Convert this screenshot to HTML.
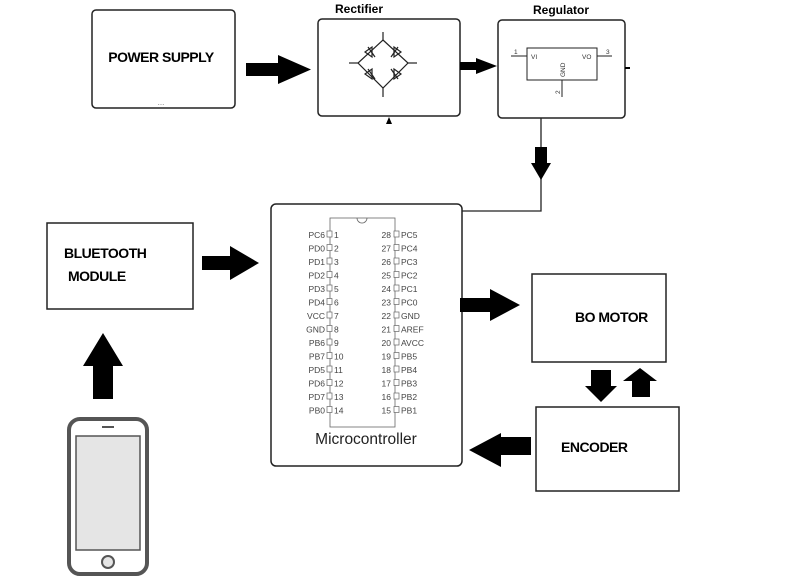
<!DOCTYPE html>
<html><head><style>
html,body{margin:0;padding:0;background:#fff;}
svg{display:block;}
.b{font-family:"Liberation Sans",sans-serif;font-weight:bold;}
.p{font-family:"Liberation Sans",sans-serif;font-size:8.5px;fill:#444;}
</style></head><body>
<svg width="800" height="577" viewBox="0 0 800 577" xmlns="http://www.w3.org/2000/svg">
<rect width="800" height="577" fill="#fff"/>
<!-- Power supply -->
<rect x="92" y="10" width="143" height="98" rx="4" fill="#fff" stroke="#222" stroke-width="1.5"/>
<text x="161" y="62" class="b" font-size="14" text-anchor="middle" style="letter-spacing:-0.5px">POWER SUPPLY</text>
<text x="161" y="105" font-family="Liberation Sans" font-size="8" fill="#777" text-anchor="middle">...</text>
<polygon points="246,63 278,63 278,55 311,69.5 278,84 278,76 246,76" fill="#000"/>
<!-- Rectifier -->
<text x="359" y="13" class="b" font-size="12" text-anchor="middle">Rectifier</text>
<rect x="318" y="19" width="142" height="97" rx="4" fill="#fff" stroke="#222" stroke-width="1.5"/>
<g stroke="#222" stroke-width="1.2" fill="none">
<polygon points="383,40 408,63 383,88 358,63"/>
<line x1="383" y1="32" x2="383" y2="40"/><line x1="383" y1="88" x2="383" y2="97"/>
<line x1="349" y1="63" x2="358" y2="63"/><line x1="408" y1="63" x2="417" y2="63"/>
<polygon points="365,52 372,47 372,57" /><line x1="368" y1="47" x2="375" y2="57"/>
<polygon points="394,47 401,52 394,57"/><line x1="391" y1="57" x2="398" y2="47"/>
<polygon points="365,74 372,69 372,79"/><line x1="368" y1="69" x2="375" y2="79"/>
<polygon points="394,69 401,74 394,79"/><line x1="398" y1="79" x2="391" y2="69"/>
</g>
<polygon points="386,124 389,117 392,124" fill="#000"/>
<polygon points="460,62 476,62 476,58 497,66 476,74 476,70 460,70" fill="#000"/>
<!-- Regulator -->
<text x="561" y="14" class="b" font-size="12" text-anchor="middle">Regulator</text>
<rect x="498" y="20" width="127" height="98" rx="4" fill="#fff" stroke="#222" stroke-width="1.5"/>
<g stroke="#222" stroke-width="1" fill="none">
<rect x="527" y="48" width="70" height="32"/>
<line x1="511" y1="56" x2="527" y2="56"/><line x1="597" y1="56" x2="612" y2="56"/>
<line x1="562" y1="80" x2="562" y2="97"/>
</g>
<g font-family="Liberation Sans" font-size="6.5" fill="#333">
<text x="514" y="54">1</text><text x="531" y="59">VI</text><text x="582" y="59">VO</text><text x="606" y="54">3</text>
<text transform="translate(565,77) rotate(-90)">GND</text>
<text transform="translate(560,94) rotate(-90)">2</text>
</g>
<line x1="625" y1="68" x2="630" y2="68" stroke="#000" stroke-width="2"/>
<polyline points="541,118 541,211 462,211" fill="none" stroke="#222" stroke-width="1.3"/>
<polygon points="535,147 547,147 547,163 551,163 541,180 531,163 535,163" fill="#000"/>
<!-- Microcontroller -->
<rect x="271" y="204" width="191" height="262" rx="5" fill="#fff" stroke="#222" stroke-width="1.5"/>
<rect x="330" y="218" width="65" height="209" fill="#fff" stroke="#666" stroke-width="0.8"/>
<path d="M357,218 A5,5 0 0 0 367,218" fill="none" stroke="#666" stroke-width="0.8"/>
<g class="p">
<text x="325" y="238" text-anchor="end">PC6</text><text x="325" y="251.5" text-anchor="end">PD0</text>
<text x="325" y="265" text-anchor="end">PD1</text><text x="325" y="278.5" text-anchor="end">PD2</text>
<text x="325" y="292" text-anchor="end">PD3</text><text x="325" y="305.5" text-anchor="end">PD4</text>
<text x="325" y="319" text-anchor="end">VCC</text><text x="325" y="332.5" text-anchor="end">GND</text>
<text x="325" y="346" text-anchor="end">PB6</text><text x="325" y="359.5" text-anchor="end">PB7</text>
<text x="325" y="373" text-anchor="end">PD5</text><text x="325" y="386.5" text-anchor="end">PD6</text>
<text x="325" y="400" text-anchor="end">PD7</text><text x="325" y="413.5" text-anchor="end">PB0</text>
<text x="334" y="238">1</text><text x="334" y="251.5">2</text><text x="334" y="265">3</text><text x="334" y="278.5">4</text>
<text x="334" y="292">5</text><text x="334" y="305.5">6</text><text x="334" y="319">7</text><text x="334" y="332.5">8</text>
<text x="334" y="346">9</text><text x="334" y="359.5">10</text><text x="334" y="373">11</text><text x="334" y="386.5">12</text>
<text x="334" y="400">13</text><text x="334" y="413.5">14</text>
<text x="391" y="238" text-anchor="end">28</text><text x="391" y="251.5" text-anchor="end">27</text>
<text x="391" y="265" text-anchor="end">26</text><text x="391" y="278.5" text-anchor="end">25</text>
<text x="391" y="292" text-anchor="end">24</text><text x="391" y="305.5" text-anchor="end">23</text>
<text x="391" y="319" text-anchor="end">22</text><text x="391" y="332.5" text-anchor="end">21</text>
<text x="391" y="346" text-anchor="end">20</text><text x="391" y="359.5" text-anchor="end">19</text>
<text x="391" y="373" text-anchor="end">18</text><text x="391" y="386.5" text-anchor="end">17</text>
<text x="391" y="400" text-anchor="end">16</text><text x="391" y="413.5" text-anchor="end">15</text>
<text x="401" y="238">PC5</text><text x="401" y="251.5">PC4</text><text x="401" y="265">PC3</text><text x="401" y="278.5">PC2</text>
<text x="401" y="292">PC1</text><text x="401" y="305.5">PC0</text><text x="401" y="319">GND</text><text x="401" y="332.5">AREF</text>
<text x="401" y="346">AVCC</text><text x="401" y="359.5">PB5</text><text x="401" y="373">PB4</text><text x="401" y="386.5">PB3</text>
<text x="401" y="400">PB2</text><text x="401" y="413.5">PB1</text>
</g>
<g fill="#fff" stroke="#666" stroke-width="0.7">
<rect x="327" y="231" width="5" height="6"/><rect x="327" y="244.5" width="5" height="6"/><rect x="327" y="258" width="5" height="6"/><rect x="327" y="271.5" width="5" height="6"/>
<rect x="327" y="285" width="5" height="6"/><rect x="327" y="298.5" width="5" height="6"/><rect x="327" y="312" width="5" height="6"/><rect x="327" y="325.5" width="5" height="6"/>
<rect x="327" y="339" width="5" height="6"/><rect x="327" y="352.5" width="5" height="6"/><rect x="327" y="366" width="5" height="6"/><rect x="327" y="379.5" width="5" height="6"/>
<rect x="327" y="393" width="5" height="6"/><rect x="327" y="406.5" width="5" height="6"/>
<rect x="394" y="231" width="5" height="6"/><rect x="394" y="244.5" width="5" height="6"/><rect x="394" y="258" width="5" height="6"/><rect x="394" y="271.5" width="5" height="6"/>
<rect x="394" y="285" width="5" height="6"/><rect x="394" y="298.5" width="5" height="6"/><rect x="394" y="312" width="5" height="6"/><rect x="394" y="325.5" width="5" height="6"/>
<rect x="394" y="339" width="5" height="6"/><rect x="394" y="352.5" width="5" height="6"/><rect x="394" y="366" width="5" height="6"/><rect x="394" y="379.5" width="5" height="6"/>
<rect x="394" y="393" width="5" height="6"/><rect x="394" y="406.5" width="5" height="6"/>
</g>
<text x="366" y="444" font-family="Liberation Sans" font-size="15.5" fill="#222" text-anchor="middle">Microcontroller</text>
<!-- Bluetooth -->
<rect x="47" y="223" width="146" height="86" fill="#fff" stroke="#222" stroke-width="1.5"/>
<text x="64" y="258" class="b" font-size="14" style="letter-spacing:-0.5px">BLUETOOTH</text>
<text x="68" y="281" class="b" font-size="14" style="letter-spacing:-0.5px">MODULE</text>
<polygon points="202,256 230,256 230,246 259,263 230,280 230,270 202,270" fill="#000"/>
<polygon points="93,399 113,399 113,366 123,366 103,333 83,366 93,366" fill="#000"/>
<!-- Phone -->
<rect x="69" y="419" width="78" height="155" rx="11" fill="#fff" stroke="#555" stroke-width="4"/>
<rect x="76" y="436" width="64" height="114" fill="#e5e5e5" stroke="#555" stroke-width="1.5"/>
<line x1="102" y1="427" x2="114" y2="427" stroke="#555" stroke-width="2"/>
<circle cx="108" cy="562" r="6" fill="#e5e5e5" stroke="#555" stroke-width="2"/>
<!-- Motor -->
<polygon points="460,298 490,298 490,289 520,305 490,321 490,312 460,312" fill="#000"/>
<rect x="532" y="274" width="134" height="88" fill="#fff" stroke="#222" stroke-width="1.5"/>
<text x="575" y="322" class="b" font-size="14" style="letter-spacing:-0.5px">BO MOTOR</text>
<polygon points="591,370 611,370 611,386 617,386 601,402 585,386 591,386" fill="#000"/>
<polygon points="632,397 650,397 650,381 657,381 640,368 623,381 632,381" fill="#000"/>
<rect x="536" y="407" width="143" height="84" fill="#fff" stroke="#222" stroke-width="1.5"/>
<text x="561" y="452" class="b" font-size="14" style="letter-spacing:-0.5px">ENCODER</text>
<polygon points="531,437 501,437 501,433 469,450 501,467 501,455 531,455" fill="#000"/>
</svg>
</body></html>
